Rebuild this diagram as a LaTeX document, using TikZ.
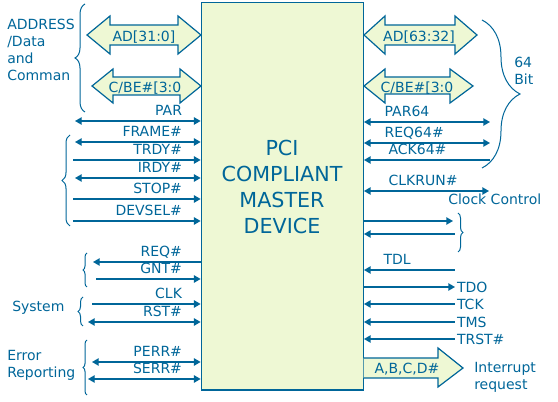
\documentclass[tikz,border=0pt]{standalone}
\usepackage{fontspec}
\setmainfont{DejaVu Sans}
\usetikzlibrary{arrows.meta,decorations.pathreplacing,calc}
\definecolor{pciblue}{RGB}{0,102,153}
\definecolor{pcigreen}{RGB}{238,248,212}

\begin{document}
\begin{tikzpicture}[x=0.75pt,y=-0.75pt,
  every node/.style={text=pciblue,inner sep=0pt,font=\fontsize{10.5}{12.75}\selectfont},
  sig/.style={draw=pciblue,line width=1pt,>={Triangle[length=5pt,width=5.5pt]}},
  fat/.style={draw=pciblue,fill=pcigreen,line width=0.9pt},
  grp/.style={draw=pciblue,line width=0.75pt,decorate,decoration={brace,amplitude=#1}},
  lbl/.style={anchor=base east,xshift=-13.5pt,yshift=3.75pt},
  rlbl/.style={anchor=base west,xshift=#1,yshift=3.75pt},
  rlbl/.default=15pt]
\useasboundingbox (0,0) rectangle (558,402);

\node [draw=pciblue,fill=pcigreen,line width=1pt,minimum width=121.5pt,minimum height=290.5pt] (dev) at (282.3,196.4) {};
\node [font=\fontsize{15.5}{19.5}\selectfont,align=center] (devlbl) at (282,187) {PCI\\COMPLIANT\\MASTER\\DEVICE};

% address / data and command buses
\draw[fat] (87,35) -- (110,16) -- (110,25) -- (178,25) -- (178,16) -- (201,35) -- (178,54) -- (178,45) -- (110,45) -- (110,54) -- cycle;
\node (adlo) at (144,37) {AD[31:0]};
\draw[fat] (92,86) -- (113,69) -- (113,77) -- (180,77) -- (180,69) -- (201,86) -- (180,103) -- (180,95) -- (113,95) -- (113,103) -- cycle;
\node (cbelo) at (145,88) {C/BE\#[3:0};
\draw[fat] (364,35) -- (385,16) -- (385,25) -- (455,25) -- (455,16) -- (477,35) -- (455,54) -- (455,45) -- (385,45) -- (385,54) -- cycle;
\node (adhi) at (419,37) {AD[63:32]};
\draw[fat] (364,86) -- (385,69) -- (385,77) -- (450,77) -- (450,69) -- (473,86) -- (450,103) -- (450,94) -- (385,94) -- (385,103) -- cycle;
\node (cbehi) at (417,88) {C/BE\#[3:0};

% left side signals
\coordinate (par) at (75,121);
\draw[sig,<->] (par) -- (par -| dev.west) node[lbl] (tpar) {PAR};
\coordinate (frame) at (75,142);
\draw[sig,<->] (frame) -- (frame -| dev.west) node[lbl] (tframe) {FRAME\#};
\coordinate (trdy) at (73,160);
\draw[sig,->] (trdy) -- (trdy -| dev.west) node[lbl] (ttrdy) {TRDY\#};
\coordinate (irdy) at (75,178);
\draw[sig,<->] (irdy) -- (irdy -| dev.west) node[lbl] (tirdy) {IRDY\#};
\coordinate (stop) at (73,199);
\draw[sig,->] (stop) -- (stop -| dev.west) node[lbl] (tstop) {STOP\#};
\coordinate (devsel) at (73,221);
\draw[sig,->] (devsel) -- (devsel -| dev.west) node[lbl] (tdevsel) {DEVSEL\#};
\coordinate (req) at (93,262);
\draw[sig,<-] (req) -- (req -| dev.west) node[lbl] (treq) {REQ\#};
\coordinate (gnt) at (96,279);
\draw[sig,->] (gnt) -- (gnt -| dev.west) node[lbl] (tgnt) {GNT\#};
\coordinate (clk) at (92,304);
\draw[sig,->] (clk) -- (clk -| dev.west) node[lbl] (tclk) {CLK};
\coordinate (rst) at (88,322);
\draw[sig,<->] (rst) -- (rst -| dev.west) node[lbl] (trst) {RST\#};
\coordinate (perr) at (92,362);
\draw[sig,<->] (perr) -- (perr -| dev.west) node[lbl] (tperr) {PERR\#};
\coordinate (serr) at (88,379);
\draw[sig,<->] (serr) -- (serr -| dev.west) node[lbl] (tserr) {SERR\#};

% right side signals
\coordinate (par64) at (490,122);
\draw[sig,<->] (par64 -| dev.east) node[rlbl] (tpar64) {PAR64} -- (par64);
\coordinate (req64) at (490,143);
\draw[sig,<->] (req64 -| dev.east) node[rlbl] (treq64) {REQ64\#} -- (req64);
\coordinate (ack64) at (490,160);
\draw[sig,<-] (ack64 -| dev.east) node[rlbl=18pt] (tack64) {ACK64\#} -- (ack64);
\coordinate (clkrun) at (489,191);
\draw[sig,<->] (clkrun -| dev.east) node[rlbl=18pt] (tclkrun) {CLKRUN\#} -- (clkrun);
\coordinate (spa) at (453,221);
\draw[sig,->] (spa -| dev.east) -- (spa);
\coordinate (spb) at (455,234);
\draw[sig,<-] (spb -| dev.east) -- (spb);
\coordinate (tdi) at (455,270);
\draw[sig,<-] (tdi -| dev.east) node[rlbl=14.25pt] (ttdi) {TDL} -- (tdi);
\coordinate (tdo) at (455,287);
\draw[sig,->] (tdo -| dev.east) -- (tdo) node[anchor=west,xshift=1pt] (ttdo) {TDO};
\coordinate (tck) at (455,304);
\draw[sig,<-] (tck -| dev.east) -- (tck) node[anchor=west,xshift=1pt] (ttck) {TCK};
\coordinate (tms) at (455,322);
\draw[sig,<-] (tms -| dev.east) -- (tms) node[anchor=west,xshift=1pt] (ttms) {TMS};
\coordinate (trst) at (455,339);
\draw[sig,<-] (trst -| dev.east) -- (trst) node[anchor=west,xshift=1pt] (ttrst) {TRST\#};

% interrupt
\draw[fat] (363.6,358) -- (438,358) -- (438,348) -- (463,368) -- (438,387) -- (438,378) -- (363.6,378);
\node (intr) at (407,369) {A,B,C,D\#};

% groups
\draw[grp=7.5pt] (85,112) -- (85,4);
\draw[grp=6pt] (70,226) -- (70,135);
\draw[grp=3pt] (87,287) -- (87,253);
\draw[grp=3.75pt] (83,326) -- (83,297);
\draw[grp=3pt] (87,395) -- (87,340);
\draw[grp=28.5pt] (482,20) -- (482,168);
\draw[grp=3.75pt] (458,213) -- (458,252);
\node[align=left,anchor=west] (addr) at (7,50) {ADDRESS\\/Data\\and\\Comman};
\node[align=left,anchor=west] (bit64) at (514,71) {64\\Bit};
\node[anchor=west] (clkctl) at (448,199) {Clock Control};
\node[anchor=west] (sys) at (12,308) {System};
\node[align=left,anchor=west] (err) at (7,365) {Error\\Reporting};
\node[align=left,anchor=west] (irq) at (474,377) {Interrupt\\request};
\end{tikzpicture}
\end{document}
